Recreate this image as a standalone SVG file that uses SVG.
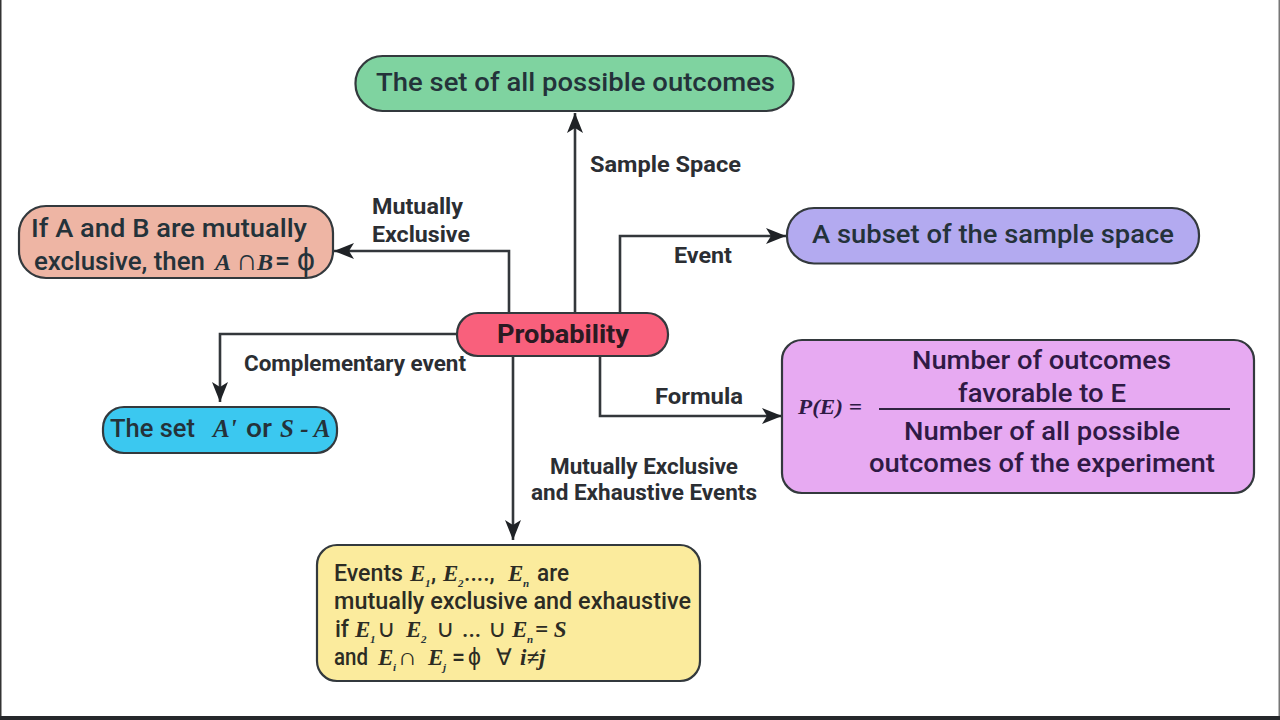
<svg xmlns="http://www.w3.org/2000/svg" width="1280" height="720" viewBox="0 0 1280 720">
<defs>
<marker id="ah" viewBox="0 0 20 16" refX="20" refY="8" markerWidth="20" markerHeight="16" markerUnits="userSpaceOnUse" orient="auto"><path d="M0 0L20 8L0 16L5 8Z" fill="#1f2226"/></marker>
</defs>
<style>
text{font-family:Roboto,"Liberation Sans",sans-serif;fill:#24323a}
.n{stroke:#33393d;stroke-width:2.2}
.t{font-size:26.500px;font-weight:500}
.l{font-size:21.500px;font-weight:700;fill:#2b2e33}
.s{font-size:23px;font-weight:500;fill:#2c2c24}
.m{font-family:"Liberation Serif",serif;font-style:italic;font-weight:700}
.y{font-size:30px;font-weight:400}
.u{font-size:24px;font-weight:500;fill:#2c2c24}
.c{fill:none;stroke:#33373b;stroke-width:2.6}
.sub{font-family:"Liberation Serif",serif;font-style:italic;font-weight:700;font-size:11px}
.f{fill:#2f1a45}
</style>
<rect width="1280" height="720" fill="#ffffff"/>
<rect x="0" y="0" width="1.5" height="716" fill="#333"/>
<rect x="1278.5" y="0" width="1.5" height="716" fill="#777"/>
<rect x="0" y="716" width="1280" height="4" fill="#26282b"/>
<g id="connectors">
<path class="c" d="M575 313V113" marker-end="url(#ah)"/>
<path class="c" d="M620 313V236H786" marker-end="url(#ah)"/>
<path class="c" d="M509 313V251H334" marker-end="url(#ah)"/>
<path class="c" d="M457 334H220V402" marker-end="url(#ah)"/>
<path class="c" d="M600 356V416H782" marker-end="url(#ah)"/>
<path class="c" d="M513 356V540" marker-end="url(#ah)"/>
</g>
<g id="connector-labels">
<text class="l" x="590" y="172" textLength="151" lengthAdjust="spacingAndGlyphs">Sample Space</text>
<text class="l" x="372" y="214" textLength="91" lengthAdjust="spacingAndGlyphs">Mutually</text>
<text class="l" x="372" y="242" textLength="98" lengthAdjust="spacingAndGlyphs">Exclusive</text>
<text class="l" x="674" y="263" textLength="58" lengthAdjust="spacingAndGlyphs">Event</text>
<text class="l" x="244" y="371" textLength="222" lengthAdjust="spacingAndGlyphs">Complementary event</text>
<text class="l" x="655" y="404" textLength="88" lengthAdjust="spacingAndGlyphs">Formula</text>
<text class="l" x="550" y="474" textLength="188" lengthAdjust="spacingAndGlyphs">Mutually Exclusive</text>
<text class="l" x="531" y="500" textLength="226" lengthAdjust="spacingAndGlyphs">and Exhaustive Events</text>
</g>
<g id="node-sample">
<rect class="n" x="355.500" y="56" width="438" height="55" rx="27" fill="#7fd3a0"/>
<text class="t" x="376" y="91" textLength="399" lengthAdjust="spacingAndGlyphs">The set of all possible outcomes</text>
</g>
<g id="node-event">
<rect class="n" x="787" y="208" width="412" height="55.500" rx="27" fill="#b3aaf0"/>
<text class="t" x="812" y="243" textLength="362" lengthAdjust="spacingAndGlyphs">A subset of the sample space</text>
</g>
<g id="node-probability">
<rect class="n" x="457" y="313" width="211" height="43" rx="21" fill="#f9607c"/>
<text x="497" y="343" textLength="132" lengthAdjust="spacingAndGlyphs" style="font-size:26px;font-weight:700;fill:#2a1a22">Probability</text>
</g>
<g id="node-mutual">
<rect class="n" x="19" y="206" width="314" height="72" rx="27" fill="#eeb5a4"/>
<text class="t" x="31" y="237" textLength="276" lengthAdjust="spacingAndGlyphs">If A and B are mutually</text>
<text class="t" x="34" y="270" textLength="171" lengthAdjust="spacingAndGlyphs">exclusive, then</text>
<text class="m" x="215" y="270" font-size="24">A</text>
<text class="y" x="236" y="270">∩</text>
<text class="m" x="257" y="270" font-size="24">B</text>
<text class="t" x="275" y="270">=</text>
<text class="y" x="297" y="270" style="font-size:32px">ϕ</text>
</g>
<g id="node-complement">
<rect class="n" x="103" y="407" width="234" height="46" rx="21" fill="#3bc8f0"/>
<text class="t" x="110" y="437" textLength="85" lengthAdjust="spacingAndGlyphs">The set</text>
<text class="m" x="213" y="437" font-size="25">A'</text>
<text class="t" x="246" y="437" textLength="26" lengthAdjust="spacingAndGlyphs">or</text>
<text class="m" x="280" y="437" font-size="25">S - A</text>
</g>
<g id="node-formula">
<rect class="n" x="782" y="340" width="472" height="153" rx="20" fill="#e7aaf2"/>
<text class="m f" x="798" y="414" font-size="21" textLength="64" lengthAdjust="spacingAndGlyphs">P(E) =</text>
<path d="M879 409H1230" stroke="#2f2440" stroke-width="2"/>
<text class="t f" x="912" y="369" textLength="259" lengthAdjust="spacingAndGlyphs">Number of outcomes</text>
<text class="t f" x="958" y="402" textLength="168" lengthAdjust="spacingAndGlyphs">favorable to E</text>
<text class="t f" x="904" y="440" textLength="276" lengthAdjust="spacingAndGlyphs">Number of all possible</text>
<text class="t f" x="869" y="472" textLength="346" lengthAdjust="spacingAndGlyphs">outcomes of the experiment</text>
</g>
<g id="node-exhaustive">
<rect class="n" x="317" y="545" width="383" height="136" rx="20" fill="#fbeb9d"/>
<text class="s" x="334" y="581" textLength="69" lengthAdjust="spacingAndGlyphs">Events</text>
<text class="s m" x="410" y="581">E</text><text class="sub" x="425" y="587">1</text><text class="s" x="431" y="581">,</text>
<text class="s m" x="443" y="581">E</text><text class="sub" x="458" y="587">2</text><text class="s" x="464" y="581">....,</text>
<text class="s m" x="508" y="581">E</text><text class="sub" x="523" y="587">n</text>
<text class="s" x="537" y="581" textLength="32" lengthAdjust="spacingAndGlyphs">are</text>
<text class="s" x="334" y="609" textLength="357" lengthAdjust="spacingAndGlyphs">mutually exclusive and exhaustive</text>
<text class="s" x="335" y="637">if</text>
<text class="s m" x="355" y="637">E</text><text class="sub" x="370" y="643">1</text><text class="u" x="377" y="637" textLength="19" lengthAdjust="spacingAndGlyphs">∪</text>
<text class="s m" x="406" y="637">E</text><text class="sub" x="421" y="643">2</text><text class="u" x="436" y="637" textLength="19" lengthAdjust="spacingAndGlyphs">∪</text>
<text class="s" x="462" y="637">...</text><text class="u" x="488" y="637" textLength="19" lengthAdjust="spacingAndGlyphs">∪</text>
<text class="s m" x="512" y="637">E</text><text class="sub" x="527" y="643">n</text>
<text class="s m" x="535" y="637">= S</text>
<text class="s" x="334" y="665" textLength="34" lengthAdjust="spacingAndGlyphs">and</text>
<text class="s m" x="378" y="665">E</text><text class="sub" x="393" y="671">i</text><text class="u" x="398" y="665" textLength="19" lengthAdjust="spacingAndGlyphs">∩</text>
<text class="s m" x="428" y="665">E</text><text class="sub" x="443" y="671">j</text>
<text class="s" x="452" y="665">=</text><text class="s" x="468" y="665">ϕ</text>
<text class="s" x="496" y="665">∀</text><text class="s m" x="520" y="665">i≠j</text>
</g>
</svg>
